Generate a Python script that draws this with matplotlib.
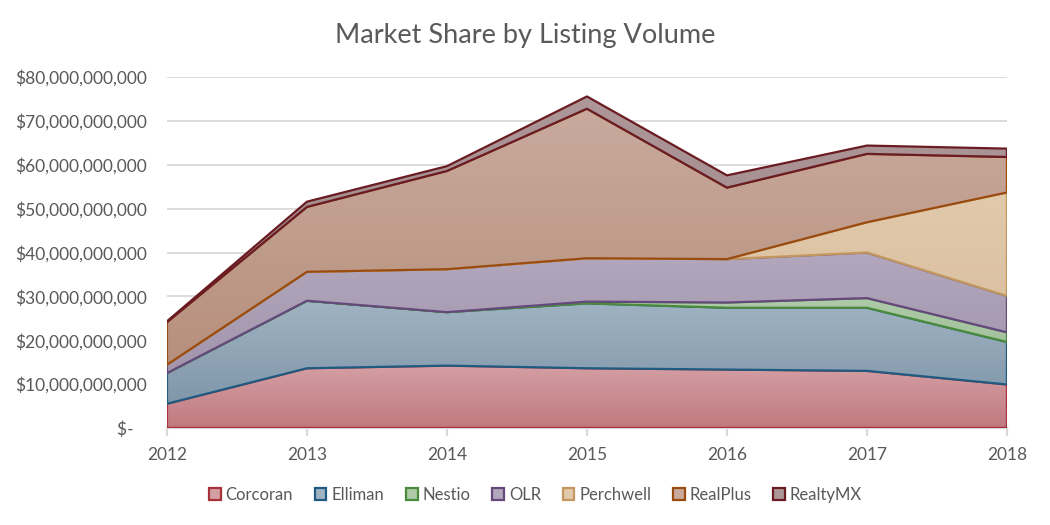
import matplotlib
matplotlib.use("Agg")
import matplotlib.pyplot as plt
import numpy as np
from matplotlib.colors import to_rgba

years = [2012, 2013, 2014, 2015, 2016, 2017, 2018]

# values in billions of dollars
corcoran = [5.5, 13.6, 14.2, 13.6, 13.3, 13.0, 9.9]
elliman = [7.0, 15.4, 12.2, 14.8, 14.1, 14.4, 9.7]
nestio = [0.0, 0.0, 0.0, 0.4, 1.2, 2.2, 2.2]
olr = [1.9, 6.6, 9.8, 9.9, 9.9, 10.4, 8.3]
perchwell = [0.0, 0.0, 0.0, 0.0, 0.0, 6.9, 23.6]
realplus = [9.7, 14.8, 22.4, 34.1, 16.3, 15.6, 8.1]
realtymx = [0.2, 1.2, 1.1, 2.8, 2.8, 1.9, 1.9]

names = ["Corcoran", "Elliman", "Nestio", "OLR", "Perchwell", "RealPlus", "RealtyMX"]
series = [corcoran, elliman, nestio, olr, perchwell, realplus, realtymx]

# (edge, gradient top, gradient bottom)
styles = [
    ("#a8323c", "#d49fa4", "#c07a7f"),
    ("#1f5a80", "#a0b3c2", "#7f97aa"),
    ("#4a8a3c", "#aecaa8", "#9dbd97"),
    ("#65497d", "#b2a7bd", "#a295ac"),
    ("#c3975e", "#e1c9ab", "#d8bd9b"),
    ("#9a4c10", "#c9aa9d", "#b78f7c"),
    ("#6a1c22", "#ad9798", "#a08889"),
]

plt.rcParams['font.family'] = ['Lato', 'DejaVu Sans']
text_col = "#595959"
grid_col = "#d9d9d9"

fig = plt.figure(figsize=(10.5, 5.25), dpi=100)
ax = fig.add_axes([0.159, 0.185, 0.8, 0.668])

x = np.array(years, dtype=float)
vals = np.array(series) * 1e9
base = np.zeros(len(years))
for i, (name, v) in enumerate(zip(names, vals)):
    edge, ctop, cbot = styles[i]
    top = base + v
    poly = ax.fill_between(x, base, top, facecolor="none", edgecolor=edge,
                           linewidth=1.6, zorder=3 + i * 2 + 1)
    # vertical gradient clipped to the polygon
    ymin, ymax = base.min(), top.max()
    if ymax > ymin:
        t = np.linspace(0, 1, 256)[:, None]
        c0 = np.array(to_rgba(ctop))
        c1 = np.array(to_rgba(cbot))
        grad = (c0 * (1 - t) + c1 * t)[:, None, :]
        grad = np.repeat(grad, 2, axis=1)
        im = ax.imshow(grad, extent=(x[0], x[-1], ymin, ymax), aspect="auto",
                       origin="upper", zorder=3 + i * 2, interpolation="bilinear")
        im.set_clip_path(poly.get_paths()[0], transform=ax.transData)
    base = top

ax.set_xlim(2012, 2018)
ax.set_ylim(0, 80e9)
ax.set_xticks(years)
ax.set_yticks(np.arange(0, 80e9 + 1, 10e9))

def money(v, pos=None):
    if v == 0:
        return "$-   "
    return "${:,.0f}".format(v)

ax.yaxis.set_major_formatter(plt.FuncFormatter(money))
ax.grid(axis="y", color=grid_col, linewidth=1.3, zorder=0)
ax.set_axisbelow(True)
for s in ["top", "right", "left"]:
    ax.spines[s].set_visible(False)
ax.spines["bottom"].set_color(grid_col)
ax.spines["bottom"].set_linewidth(1.6)
ax.spines["bottom"].set_zorder(2)
ax.tick_params(axis="y", length=0, pad=14.5, labelsize=12.5, labelcolor=text_col)
ax.tick_params(axis="x", length=6, width=1.6, color=grid_col, pad=8,
               labelsize=12.5, labelcolor=text_col)

fig.text(0.5, 0.933, "Market Share by Listing Volume", ha="center", va="center",
         fontsize=19.5, color=text_col)

handles = [plt.Rectangle((0, 0), 1, 1, facecolor=styles[i][1], edgecolor=styles[i][0],
                         linewidth=1.6) for i in range(len(names))]
fig.legend(handles, names, loc="center", bbox_to_anchor=(0.51, 0.058), ncol=7,
           frameon=False, fontsize=12, labelcolor=text_col, handlelength=0.7,
           handleheight=0.7, handletextpad=0.3, columnspacing=1.3)

fig.savefig("out.png", dpi=100)
